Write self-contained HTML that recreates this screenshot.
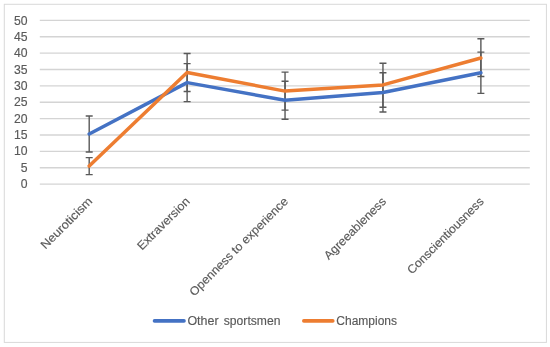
<!DOCTYPE html>
<html><head><meta charset="utf-8"><title>Chart</title>
<style>html,body{margin:0;padding:0;background:#fff}svg{display:block}</style></head>
<body>
<svg width="550" height="347" viewBox="0 0 550 347" font-family="'Liberation Sans', sans-serif" font-size="12" fill="#595959" stroke="#595959" stroke-width="0.15">
<rect x="0" y="0" width="550" height="347" fill="#fff" stroke="none"/>
<rect x="4.3" y="4.3" width="542.1" height="338.1" fill="#fff" stroke="#d9d9d9" stroke-width="1"/>
<line x1="39.8" y1="184.10" x2="529.8" y2="184.10" stroke="#d4d4d4" stroke-width="1.3"/>
<text x="27.5" y="188.20" text-anchor="end" textLength="6.8" lengthAdjust="spacingAndGlyphs">0</text>
<line x1="39.8" y1="167.73" x2="529.8" y2="167.73" stroke="#d4d4d4" stroke-width="1.3"/>
<text x="27.5" y="171.83" text-anchor="end" textLength="6.8" lengthAdjust="spacingAndGlyphs">5</text>
<line x1="39.8" y1="151.36" x2="529.8" y2="151.36" stroke="#d4d4d4" stroke-width="1.3"/>
<text x="27.5" y="155.46" text-anchor="end" textLength="13.6" lengthAdjust="spacingAndGlyphs">10</text>
<line x1="39.8" y1="134.99" x2="529.8" y2="134.99" stroke="#d4d4d4" stroke-width="1.3"/>
<text x="27.5" y="139.09" text-anchor="end" textLength="13.6" lengthAdjust="spacingAndGlyphs">15</text>
<line x1="39.8" y1="118.62" x2="529.8" y2="118.62" stroke="#d4d4d4" stroke-width="1.3"/>
<text x="27.5" y="122.72" text-anchor="end" textLength="13.6" lengthAdjust="spacingAndGlyphs">20</text>
<line x1="39.8" y1="102.25" x2="529.8" y2="102.25" stroke="#d4d4d4" stroke-width="1.3"/>
<text x="27.5" y="106.35" text-anchor="end" textLength="13.6" lengthAdjust="spacingAndGlyphs">25</text>
<line x1="39.8" y1="85.88" x2="529.8" y2="85.88" stroke="#d4d4d4" stroke-width="1.3"/>
<text x="27.5" y="89.98" text-anchor="end" textLength="13.6" lengthAdjust="spacingAndGlyphs">30</text>
<line x1="39.8" y1="69.51" x2="529.8" y2="69.51" stroke="#d4d4d4" stroke-width="1.3"/>
<text x="27.5" y="73.61" text-anchor="end" textLength="13.6" lengthAdjust="spacingAndGlyphs">35</text>
<line x1="39.8" y1="53.14" x2="529.8" y2="53.14" stroke="#d4d4d4" stroke-width="1.3"/>
<text x="27.5" y="57.24" text-anchor="end" textLength="13.6" lengthAdjust="spacingAndGlyphs">40</text>
<line x1="39.8" y1="36.77" x2="529.8" y2="36.77" stroke="#d4d4d4" stroke-width="1.3"/>
<text x="27.5" y="40.87" text-anchor="end" textLength="13.6" lengthAdjust="spacingAndGlyphs">45</text>
<line x1="39.8" y1="20.40" x2="529.8" y2="20.40" stroke="#d4d4d4" stroke-width="1.3"/>
<text x="27.5" y="24.50" text-anchor="end" textLength="13.6" lengthAdjust="spacingAndGlyphs">50</text>
<path d="M89.20 116.00V152.01M85.70 116.00H92.70M85.70 152.01H92.70" stroke="#595959" stroke-width="1.4" fill="none"/>
<path d="M89.20 157.58V174.61M85.70 157.58H92.70M85.70 174.61H92.70" stroke="#595959" stroke-width="1.4" fill="none"/>
<path d="M187.12 63.62V101.60M183.62 63.62H190.62M183.62 101.60H190.62" stroke="#595959" stroke-width="1.4" fill="none"/>
<path d="M187.12 53.47V91.45M183.62 53.47H190.62M183.62 91.45H190.62" stroke="#595959" stroke-width="1.4" fill="none"/>
<path d="M285.04 81.30V119.27M281.54 81.30H288.54M281.54 119.27H288.54" stroke="#595959" stroke-width="1.4" fill="none"/>
<path d="M285.04 72.13V110.11M281.54 72.13H288.54M281.54 110.11H288.54" stroke="#595959" stroke-width="1.4" fill="none"/>
<path d="M382.96 72.78V112.07M379.46 72.78H386.46M379.46 112.07H386.46" stroke="#595959" stroke-width="1.4" fill="none"/>
<path d="M382.96 63.29V107.32M379.46 63.29H386.46M379.46 107.32H386.46" stroke="#595959" stroke-width="1.4" fill="none"/>
<path d="M480.88 52.16V93.41M477.38 52.16H484.38M477.38 93.41H484.38" stroke="#595959" stroke-width="1.4" fill="none"/>
<path d="M480.88 38.73V76.55M477.38 38.73H484.38M477.38 76.55H484.38" stroke="#595959" stroke-width="1.4" fill="none"/>
<polyline points="89.20,134.01 187.12,82.61 285.04,100.29 382.96,92.43 480.88,72.78" fill="none" stroke="#4472c4" stroke-width="3.5" stroke-linecap="round" stroke-linejoin="round"/>
<polyline points="89.20,166.09 187.12,72.46 285.04,91.12 382.96,84.90 480.88,58.05" fill="none" stroke="#ed7d31" stroke-width="3.5" stroke-linecap="round" stroke-linejoin="round"/>
<text transform="translate(93.00 202.10) rotate(-45)" text-anchor="end" textLength="67.3" lengthAdjust="spacingAndGlyphs">Neuroticism</text>
<text transform="translate(190.60 202.10) rotate(-45)" text-anchor="end" textLength="68.9" lengthAdjust="spacingAndGlyphs">Extraversion</text>
<text transform="translate(288.80 202.05) rotate(-45)" text-anchor="end" textLength="133.9" lengthAdjust="spacingAndGlyphs">Openness to experience</text>
<text transform="translate(386.80 202.20) rotate(-45)" text-anchor="end" textLength="82.0" lengthAdjust="spacingAndGlyphs">Agreeableness</text>
<text transform="translate(484.50 202.30) rotate(-45)" text-anchor="end" textLength="102.4" lengthAdjust="spacingAndGlyphs">Conscientiousness</text>
<line x1="154.5" y1="320.9" x2="184" y2="320.9" stroke="#4472c4" stroke-width="3.6" stroke-linecap="round"/>
<text y="325.2"><tspan x="187.4" textLength="31.2" lengthAdjust="spacingAndGlyphs">Other</tspan> <tspan x="223.8" textLength="56.6" lengthAdjust="spacingAndGlyphs">sportsmen</tspan></text>
<line x1="303.8" y1="320.9" x2="332.8" y2="320.9" stroke="#ed7d31" stroke-width="3.6" stroke-linecap="round"/>
<text x="336.3" y="325.2">Champions</text>
</svg>
</body></html>
